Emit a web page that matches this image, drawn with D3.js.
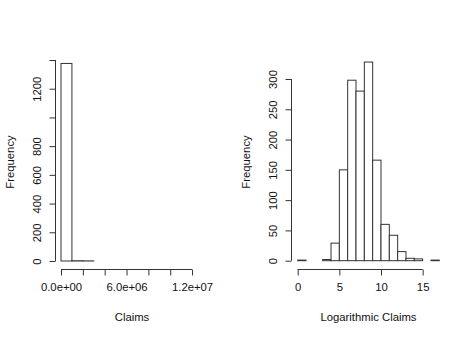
<!DOCTYPE html>
<html>
<head>
<meta charset="utf-8">
<script src="https://cdn.jsdelivr.net/npm/d3@7"></script>
<style>
  html, body { margin: 0; padding: 0; background: #fff; }
  svg { display: block; }
  text { font-family: "Liberation Sans", Arial, Helvetica, sans-serif; fill: #111; }
</style>
</head>
<body>
<svg id="chart" width="474" height="338"></svg>
<script>
// ---- data ----
const claimBinWidth = 1e6;
const claimCounts = [1376, 2, 1, 0, 0, 0, 0, 0, 0, 0, 0, 0, 0];   // bins 0..13e6
const claimXTicks = [0, 2e6, 4e6, 6e6, 8e6, 10e6, 12e6];
const claimXLabels = ["0.0e+00", "", "", "6.0e+06", "", "", "1.2e+07"];
const claimYTicks = [0, 200, 400, 600, 800, 1000, 1200, 1400];
const claimYLabels = ["0", "200", "400", "600", "800", "", "1200", ""];

const logBinWidth = 1;
const logCounts = [1, 0, 0, 2, 29, 150, 298, 280, 328, 166, 60, 42, 15, 4, 3, 0, 1]; // bins 0..17
const logXTicks = [0, 5, 10, 15];
const logXLabels = ["0", "5", "10", "15"];
const logYTicks = [0, 50, 100, 150, 200, 250, 300];
const logYLabels = ["0", "50", "100", "150", "200", "250", "300"];

const xTitles = ["Claims", "Logarithmic Claims"];
const yTitle = "Frequency";

// ---- drawing ----
const svg = d3.select("#chart");
svg.append("rect").attr("width", 474).attr("height", 338).attr("fill", "#fff");
const stroke = "#333";
const fs = "11.3px";

function panel(opts) {
  const g = svg.append("g");
  const nb = opts.counts.length;
  const x = d3.scaleLinear().domain([0, nb * opts.bw]).range(opts.xRange);
  const y = d3.scaleLinear().domain([0, opts.yTicks[opts.yTicks.length - 1]]).range(opts.yRange);

  // bars
  g.selectAll("rect.bar").data(opts.counts).join("rect")
    .attr("class", "bar")
    .attr("x", (d, i) => x(i * opts.bw))
    .attr("width", (d, i) => x((i + 1) * opts.bw) - x(i * opts.bw))
    .attr("y", d => y(d))
    .attr("height", d => y(0) - y(d))
    .attr("fill", "#fff")
    .attr("stroke", stroke)
    .attr("stroke-width", 1);

  // x axis
  const xa = d3.axisBottom(x).tickValues(opts.xTicks)
    .tickFormat((d, i) => opts.xLabels[i]).tickSizeOuter(0).tickSize(6).tickPadding(7);
  const gx = g.append("g").attr("transform", `translate(0,${opts.xAxisY})`).call(xa);
  gx.select(".domain").attr("d", `M${x(opts.xTicks[0])},0H${x(opts.xTicks[opts.xTicks.length - 1])}`);
  gx.selectAll("line, path").attr("stroke", stroke);
  gx.selectAll("text").attr("font-size", fs).attr("fill", "#111").attr("font-family", null);

  // y axis
  const ya = d3.axisLeft(y).tickValues(opts.yTicks)
    .tickFormat((d, i) => opts.yLabels[i]).tickSizeOuter(0).tickSize(6);
  const gy = g.append("g").attr("transform", `translate(${opts.yAxisX},0)`).call(ya);
  gy.select(".domain").attr("d", `M0,${y(opts.yTicks[0])}V${y(opts.yTicks[opts.yTicks.length - 1])}`);
  gy.selectAll("line, path").attr("stroke", stroke);
  gy.selectAll(".tick text")
    .attr("font-size", fs).attr("fill", "#111").attr("font-family", null)
    .attr("x", null).attr("dy", null)
    .attr("text-anchor", "middle")
    .attr("dominant-baseline", "central")
    .attr("transform", "translate(-18.5,0) rotate(-90)");

  // titles
  g.append("text").attr("x", (opts.xRange[0] + opts.xRange[1]) / 2).attr("y", 317)
    .attr("text-anchor", "middle").attr("dominant-baseline", "central")
    .attr("font-size", fs).text(opts.xTitle);
  const cy = 162;
  g.append("text").attr("transform", `translate(${opts.yAxisX - 45.5},${cy}) rotate(-90)`)
    .attr("text-anchor", "middle").attr("dominant-baseline", "central")
    .attr("font-size", fs).text(yTitle);
}

panel({
  counts: claimCounts, bw: claimBinWidth,
  xRange: [61, 203], yRange: [261, 60],
  xTicks: claimXTicks, xLabels: claimXLabels,
  yTicks: claimYTicks, yLabels: claimYLabels,
  xAxisY: 269.5, yAxisX: 55.5, xTitle: xTitles[0]
});

panel({
  counts: logCounts, bw: logBinWidth,
  xRange: [297.7, 439.3], yRange: [260.7, 79],
  xTicks: logXTicks, xLabels: logXLabels,
  yTicks: logYTicks, yLabels: logYLabels,
  xAxisY: 269.5, yAxisX: 291.5, xTitle: xTitles[1]
});
</script>
</body>
</html>
